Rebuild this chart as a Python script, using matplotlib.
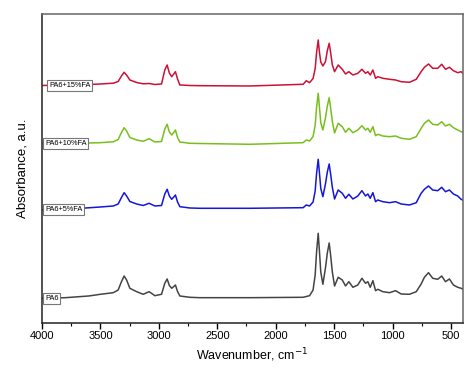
import matplotlib
matplotlib.use("Agg")
import matplotlib.pyplot as plt
from matplotlib.ticker import MultipleLocator

plt.rcParams['font.family'] = ['Liberation Sans', 'DejaVu Sans']

# wavenumber points (cm-1)
wavenumber = [4000, 3800, 3600, 3500, 3390, 3348, 3320, 3297, 3276, 3248,
              3190, 3134, 3083, 3034, 2977, 2949, 2929, 2910, 2890, 2872,
              2858, 2840, 2820, 2735, 2650,
              2220, 1765, 1738, 1710,
              1680, 1662, 1650, 1636, 1625, 1614, 1596, 1574, 1558, 1542,
              1530, 1515, 1496,
              1465, 1430, 1402, 1374, 1339, 1297, 1262, 1231, 1211, 1191,
              1168, 1145, 1126, 1083, 1026, 974, 926, 855, 797, 755,
              727, 692, 656, 613, 579, 547, 513, 479, 442, 413, 400]

# absorbance (stacked, a.u.)
pa6 = [0.247, 0.253, 0.27, 0.287, 0.303, 0.33, 0.413, 0.47, 0.43, 0.347,
       0.313, 0.287, 0.313, 0.273, 0.287, 0.397, 0.44, 0.375, 0.347, 0.365,
       0.38, 0.315, 0.27, 0.257, 0.253,
       0.253, 0.257, 0.265, 0.273,
       0.33, 0.48, 0.71, 0.897, 0.71, 0.51, 0.387, 0.55, 0.70, 0.80,
       0.68, 0.51, 0.37,
       0.457, 0.43, 0.37, 0.413, 0.357, 0.38, 0.447, 0.397, 0.413, 0.357,
       0.423, 0.323, 0.337, 0.313, 0.303, 0.323, 0.29, 0.287, 0.313, 0.39,
       0.457, 0.503, 0.447, 0.437, 0.47, 0.413, 0.44, 0.38, 0.357, 0.347, 0.34]
pa6_5fa = [1.132, 1.137, 1.152, 1.16, 1.17, 1.19, 1.255, 1.303, 1.27, 1.215,
           1.19, 1.175, 1.197, 1.17, 1.175, 1.29, 1.337, 1.27, 1.237, 1.26,
           1.28, 1.21, 1.163, 1.15, 1.147,
           1.147, 1.153, 1.18, 1.17,
           1.21, 1.32, 1.495, 1.637, 1.495, 1.345, 1.263, 1.39, 1.51, 1.59,
           1.492, 1.356, 1.24,
           1.33, 1.297, 1.247, 1.287, 1.24, 1.27, 1.323, 1.27, 1.29, 1.247,
           1.303, 1.213, 1.23, 1.213, 1.203, 1.213, 1.19, 1.18, 1.203, 1.297,
           1.337, 1.37, 1.33, 1.323, 1.357, 1.313, 1.33, 1.29, 1.27, 1.237, 1.23]
pa6_10fa = [1.795, 1.795, 1.80, 1.803, 1.812, 1.835, 1.905, 1.953, 1.92, 1.855,
            1.83, 1.817, 1.843, 1.81, 1.815, 1.94, 1.987, 1.91, 1.88, 1.905,
            1.93, 1.855, 1.81, 1.797, 1.795,
            1.787, 1.803, 1.83, 1.82,
            1.865, 1.977, 2.154, 2.297, 2.154, 2.001, 1.93, 2.05, 2.17, 2.253,
            2.153, 2.015, 1.90,
            1.997, 1.963, 1.907, 1.947, 1.903, 1.93, 1.973, 1.93, 1.947, 1.907,
            1.963, 1.873, 1.887, 1.87, 1.863, 1.87, 1.847, 1.837, 1.863, 1.947,
            1.997, 2.03, 1.987, 1.98, 2.013, 1.97, 1.987, 1.953, 1.93, 1.913, 1.91]
pa6_15fa = [2.375, 2.38, 2.385, 2.39, 2.398, 2.415, 2.47, 2.507, 2.48, 2.43,
            2.405, 2.392, 2.395, 2.385, 2.39, 2.53, 2.58, 2.50, 2.463, 2.49,
            2.513, 2.44, 2.38, 2.375, 2.373,
            2.37, 2.387, 2.423, 2.403,
            2.445, 2.545, 2.703, 2.83, 2.703, 2.61, 2.57, 2.613, 2.723, 2.797,
            2.707, 2.581, 2.513,
            2.58, 2.537, 2.49, 2.513, 2.48, 2.497, 2.537, 2.497, 2.513, 2.48,
            2.53, 2.447, 2.463, 2.447, 2.437, 2.43, 2.413, 2.407, 2.437, 2.513,
            2.557, 2.59, 2.547, 2.547, 2.587, 2.537, 2.557, 2.523, 2.503, 2.513, 2.50]

labels = ['PA6', 'PA6+5%FA', 'PA6+10%FA', 'PA6+15%FA']
label_x = [3975, 3975, 3975, 3940]
series = [pa6, pa6_5fa, pa6_10fa, pa6_15fa]
colors = ['#444444', '#1616d8', '#78bf1e', '#cc1136']

fig = plt.figure(figsize=(4.74, 3.75), dpi=100)
ax = fig.add_axes([0.0886, 0.1387, 0.8874, 0.824])

for y, c, lab, lx in zip(series, colors, labels, label_x):
    ax.plot(wavenumber, y, color=c, lw=1.1)
    ax.text(lx, y[0], lab, fontsize=5.3, va='center', ha='left',
            bbox=dict(boxstyle='square,pad=0.25', fc='white', ec='#777777', lw=0.8))

ax.set_xlim(4000, 400)
ax.set_ylim(0, 3.09)
ax.xaxis.set_major_locator(MultipleLocator(500))
ax.xaxis.set_minor_locator(MultipleLocator(250))
ax.tick_params(axis='x', which='major', direction='out', length=4, width=1, labelsize=8, pad=2)
ax.tick_params(axis='x', which='minor', direction='out', length=2.5, width=0.8)
ax.set_yticks([])

for s in ['left', 'bottom']:
    ax.spines[s].set_color('#222222')
    ax.spines[s].set_linewidth(1.1)
for s in ['top', 'right']:
    ax.spines[s].set_color('#666666')
    ax.spines[s].set_linewidth(1.1)

ax.set_xlabel('Wavenumber, cm$^{-1}$', fontsize=9, labelpad=4)
ax.set_ylabel('Absorbance, a.u.', fontsize=9.5, labelpad=10)

fig.savefig('out.png', dpi=100)
